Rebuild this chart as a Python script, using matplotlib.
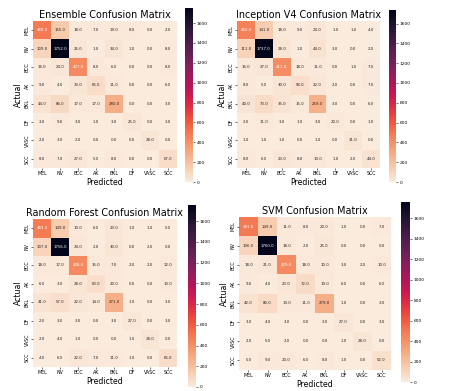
import numpy as np
import matplotlib
matplotlib.use("Agg")
import matplotlib.pyplot as plt
import seaborn as sns

# class labels
labels = ["MEL", "NV", "BCC", "AK", "BKL", "DF", "VASC", "SCC"]

# confusion matrices (rows = actual, cols = predicted)
ensemble = [
    [489, 155, 18, 7, 19, 8, 0, 2],
    [109, 1752, 26, 1, 34, 1, 0, 8],
    [16, 24, 427, 8, 6, 0, 0, 8],
    [9, 4, 33, 66, 11, 0, 0, 6],
    [44, 86, 17, 17, 280, 0, 0, 3],
    [3, 9, 3, 1, 3, 25, 0, 3],
    [2, 3, 2, 0, 0, 0, 28, 0],
    [8, 7, 27, 5, 8, 0, 0, 67],
]

inception = [
    [460, 141, 18, 9, 24, 1, 1, 4],
    [111, 1737, 28, 1, 44, 3, 0, 2],
    [16, 27, 411, 18, 11, 0, 1, 7],
    [8, 5, 30, 58, 22, 2, 0, 7],
    [40, 73, 35, 15, 259, 3, 0, 6],
    [2, 11, 3, 1, 3, 20, 0, 1],
    [1, 1, 1, 0, 1, 0, 31, 0],
    [8, 6, 23, 8, 10, 1, 2, 44],
]

random_forest = [
    [483, 149, 10, 6, 23, 1, 1, 5],
    [107, 1756, 24, 2, 30, 0, 2, 0],
    [18, 17, 428, 15, 7, 2, 2, 12],
    [6, 3, 28, 60, 20, 0, 0, 10],
    [41, 57, 22, 14, 271, 1, 0, 3],
    [2, 3, 3, 0, 3, 27, 0, 3],
    [2, 4, 1, 0, 0, 1, 28, 0],
    [4, 6, 22, 7, 11, 1, 0, 66],
]

svm = [
    [491, 149, 11, 8, 20, 1, 0, 7],
    [106, 1760, 18, 2, 25, 0, 0, 0],
    [18, 21, 429, 18, 10, 3, 2, 10],
    [9, 4, 23, 72, 19, 6, 0, 6],
    [42, 80, 19, 11, 279, 1, 0, 3],
    [3, 4, 3, 0, 3, 27, 0, 3],
    [2, 5, 2, 0, 0, 1, 28, 0],
    [5, 9, 20, 6, 8, 1, 0, 52],
]

titles = ["Ensemble Confusion Matrix", "Inception V4 Confusion Matrix",
          "Random Forest Confusion Matrix", "SVM Confusion Matrix"]
matrices = [ensemble, inception, random_forest, svm]

W, H = 474, 391
fig = plt.figure(figsize=(W / 100, H / 100), dpi=100)


def px_axes(x0, y0, x1, y1):
    # pixel box (top-left origin) -> figure axes
    return fig.add_axes([x0 / W, 1 - y1 / H, (x1 - x0) / W, (y1 - y0) / H])


# heatmap boxes and colorbar boxes in pixels
heat_boxes = [(33, 21, 177, 168), (237, 21, 380, 168),
              (33, 219, 177, 367), (239, 217, 391, 370)]
cbar_boxes = [(185, 8, 193, 182), (389, 10, 396, 182),
              (188, 205, 196, 387), (401, 202, 410, 382)]

for mat, title, hb, cb in zip(matrices, titles, heat_boxes, cbar_boxes):
    ax = px_axes(*hb)
    cax = px_axes(*cb)
    data = np.array(mat, dtype=float)
    sns.heatmap(data, ax=ax, cbar_ax=cax, cmap="rocket_r",
                annot=True, fmt=".1f", vmin=0, vmax=data.max(),
                annot_kws={"fontsize": 2.8},
                xticklabels=labels, yticklabels=labels)
    ax.set_title(title, fontsize=6.9, pad=2)
    ax.set_xlabel("Predicted", fontsize=5.6, labelpad=1)
    ax.set_ylabel("Actual", fontsize=5.6, labelpad=1)
    ax.tick_params(labelsize=3.4, length=1.5, width=0.4, pad=1)
    ax.set_xticklabels(labels, rotation=0)
    ax.set_yticklabels(labels, rotation=90, va="center")
    cax.tick_params(labelsize=3.2, length=1.5, width=0.4, pad=1)
    cax.set_yticks(np.arange(0, 1700, 200))

fig.savefig("out.png", dpi=100)
